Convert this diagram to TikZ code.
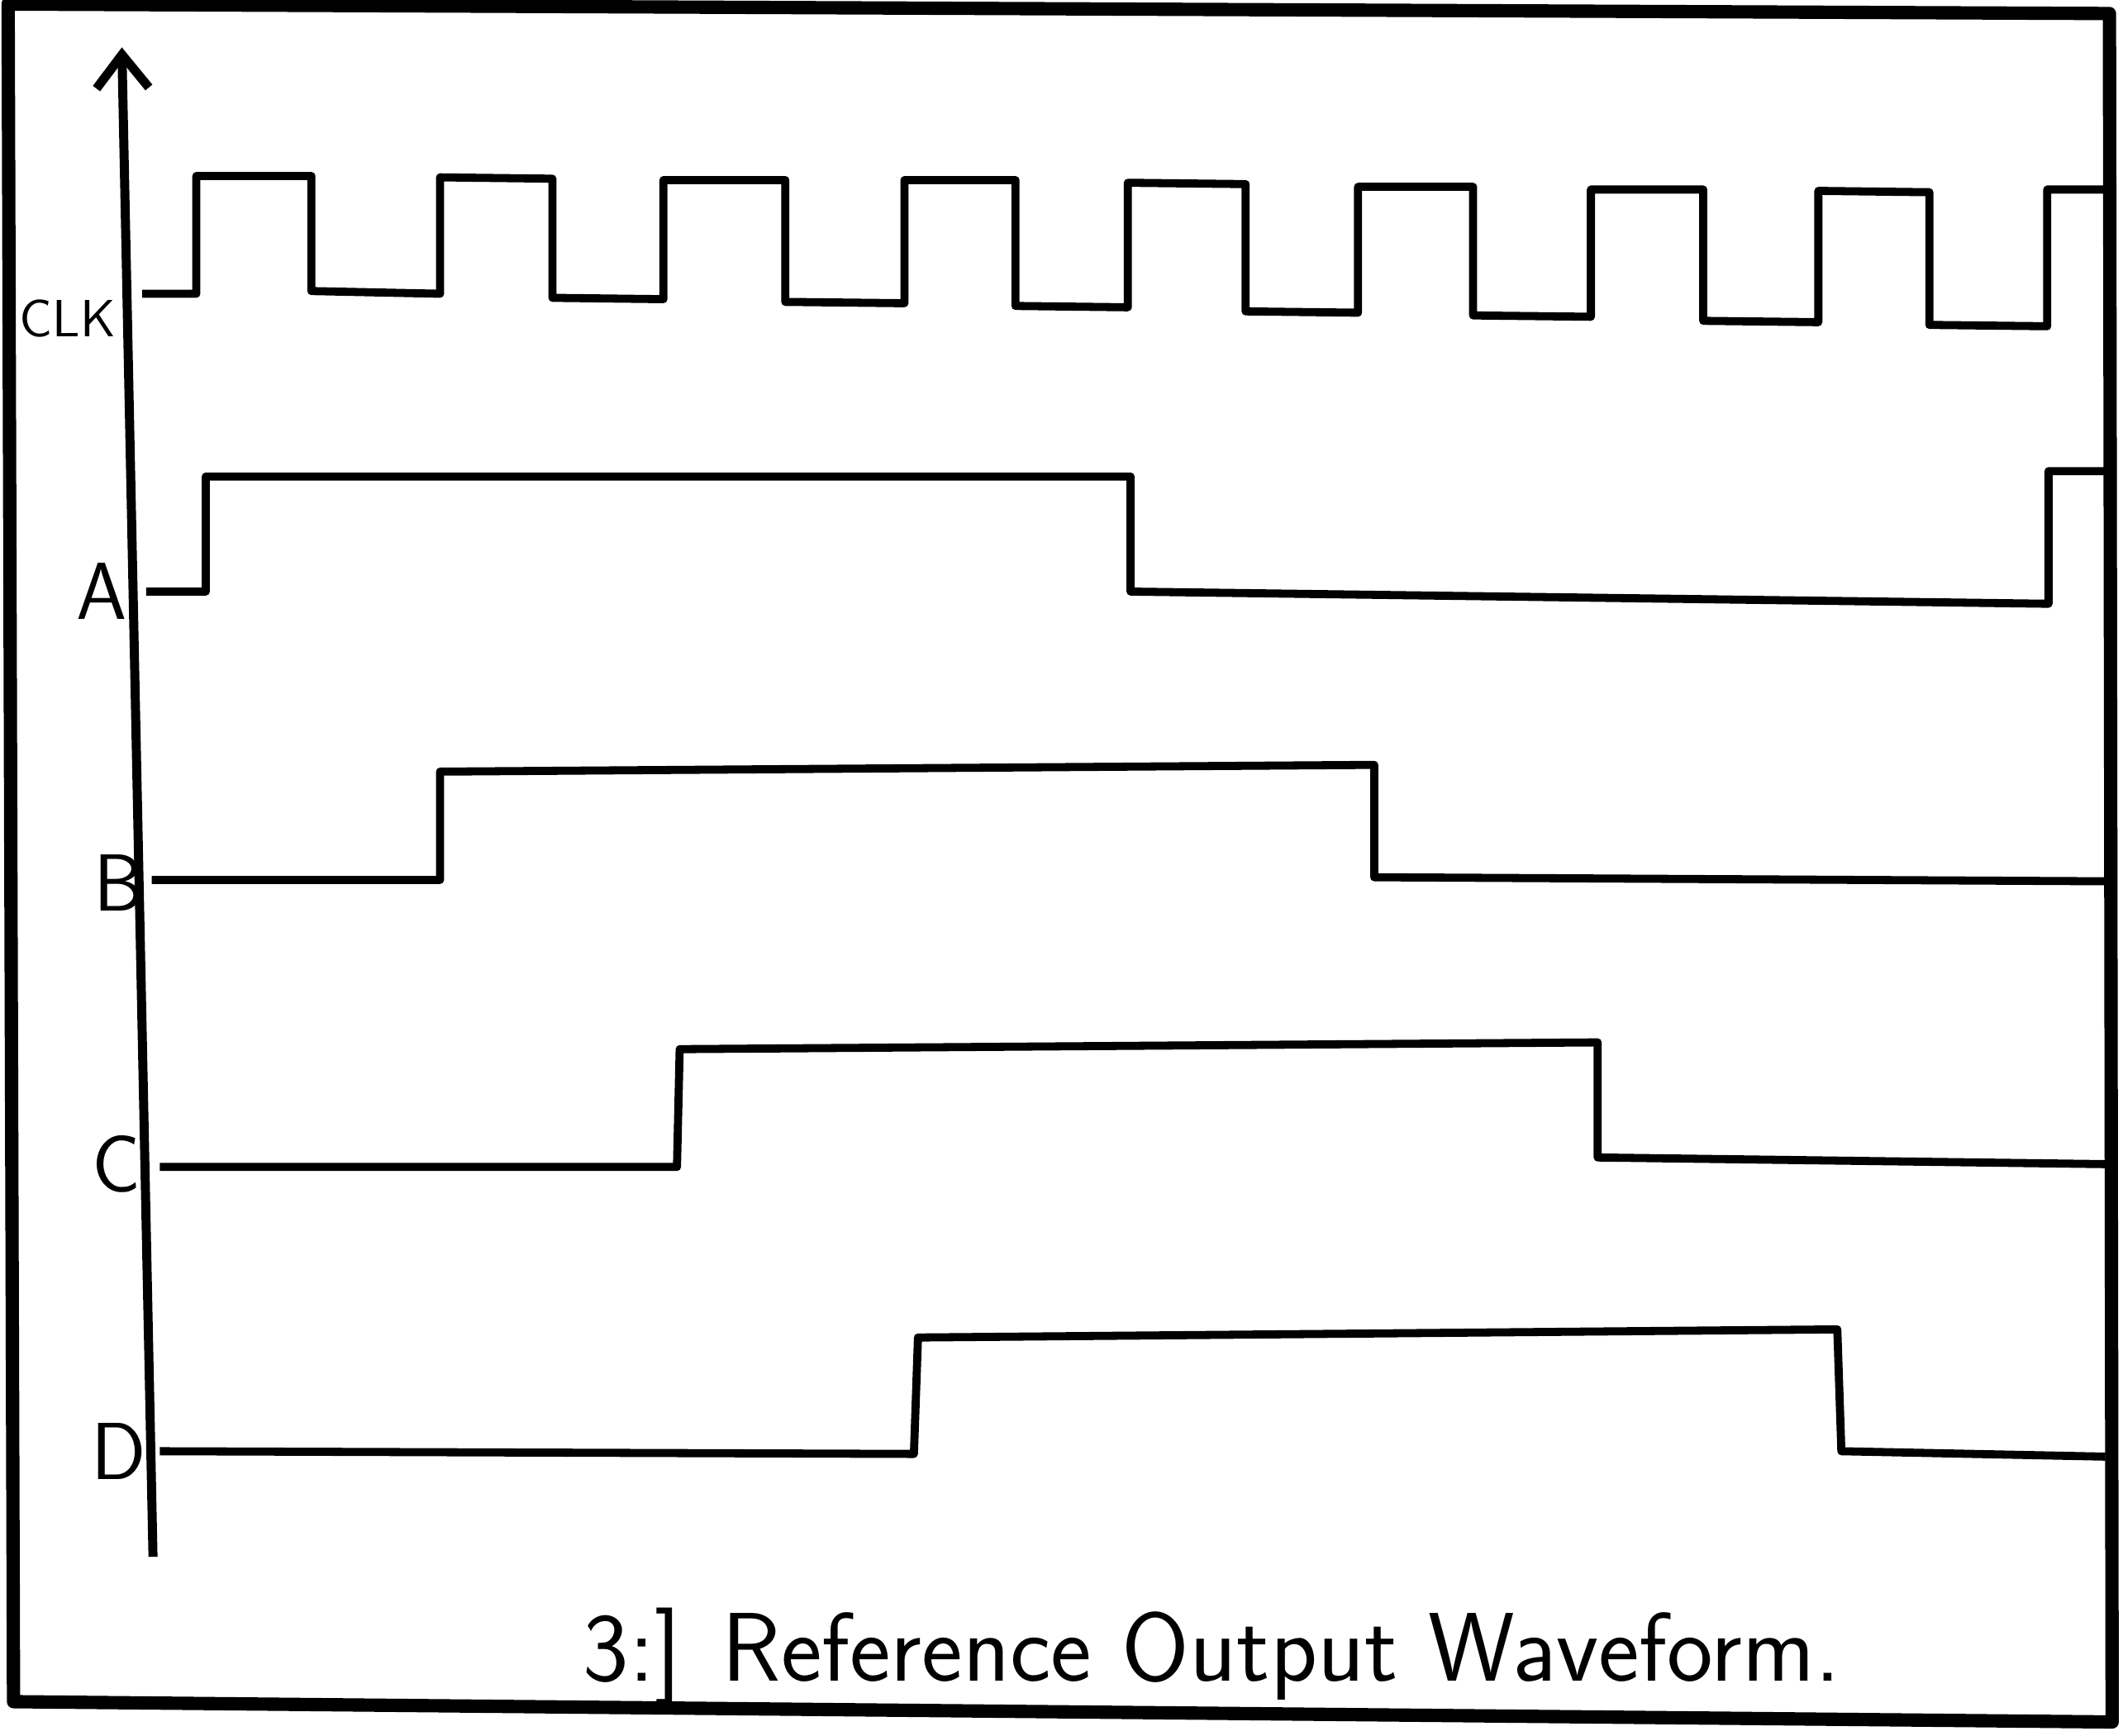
\documentclass[tikz,border=0pt]{standalone}
\usepackage{amsmath,amssymb}
\usepackage{tikz}
\usetikzlibrary{positioning,arrows.meta}

\tikzset{
  wave/.style={line width=1.7pt,line join=round},
  frame/.style={line width=2.8pt,line join=round},
  sig/.style={font=\sffamily\fontsize{17}{20}\selectfont},
}

\begin{document}
\begin{tikzpicture}[x=0.01cm,y=-0.01cm]
            \useasboundingbox (0,0) rectangle (1568,1282);
            % border of the sheet
            \coordinate (tl) at (6,3);
            \coordinate (tr) at (1558,10);
            \coordinate (br) at (1560,1272);
            \coordinate (bl) at (10,1257);
            \draw[frame] (tl) -- (tr) -- (br) -- (bl) -- cycle;
            % axis
            \coordinate (o) at (113,1150);
            \coordinate (top) at (90,35);
            \draw[line width=1.9pt,-{Straight Barb[length=7pt,width=11pt]}] (o) -- (top);
            % labels
            \node[font=\sffamily\fontsize{11}{13}\selectfont] (clk) at (50,235) {CLK};
            \node[sig] (a) at (75,437) {A};
            \node[sig] (b) at (88,652) {B};
            \node[sig] (c) at (86,860) {C};
            \node[sig] (d) at (88,1072) {D};
            % clock
            \draw[wave] (105,217) -- (145,217) -- (145,130) -- (230,130) -- (230,215)
                -- (325,217) -- (325,131) -- (408,132) -- (408,220)
                -- (490,221) -- (490,133) -- (580,133) -- (580,223)
                -- (668,224) -- (668,133) -- (750,133) -- (750,226)
                -- (833,227) -- (833,135) -- (920,136) -- (920,230)
                -- (1003,231) -- (1003,138) -- (1088,138) -- (1088,233)
                -- (1175,234) -- (1175,140) -- (1258,140) -- (1258,237)
                -- (1343,238) -- (1343,141) -- (1425,142) -- (1425,240)
                -- (1512,241) -- (1512,140) -- (1555,140);
            % outputs
            \draw[wave] (108,437) -- (152,437) -- (152,352) -- (835,352) -- (835,437)
                -- (1513,446) -- (1513,348) -- (1555,348);
            \draw[wave] (112,650) -- (325,650) -- (325,570) -- (1015,565) -- (1015,648)
                -- (1555,651);
            \draw[wave] (118,862) -- (500,862) -- (502,775) -- (1180,770) -- (1180,855)
                -- (1560,860);
            \draw[wave] (118,1072) -- (675,1074) -- (678,988) -- (1357,982) -- (1360,1072)
                -- (1555,1076);
            % caption
            \node[font=\sffamily\fontsize{20.5}{24}\selectfont] (title) at (895,1224)
                {3:] Reference Output Waveform.};
        \end{tikzpicture}
\end{document}
